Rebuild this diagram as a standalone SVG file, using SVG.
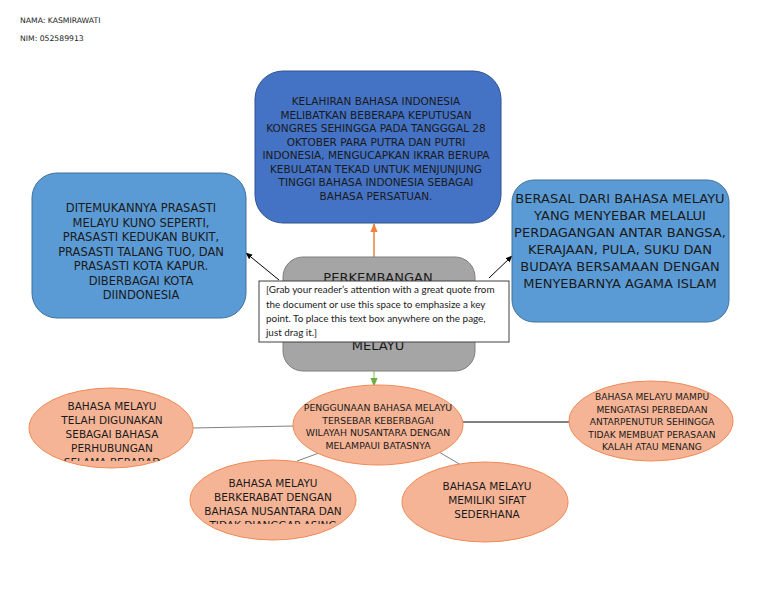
<svg xmlns="http://www.w3.org/2000/svg" width="768" height="594" viewBox="0 0 768 594">
<style>
text{font-family:"DejaVu Sans","Noto Sans",sans-serif;fill:#1a1a1a;text-anchor:middle}
.hd{font-size:7.7px;text-anchor:start}
.t1{font-size:10.5px}
.t2{font-size:11.5px}
.t3{font-size:13px}
.e{fill:#F5B496;stroke:#F08A55;stroke-width:1}
.ec{font-size:9.3px}
.er{font-size:9.1px}
.q{font-family:Lato,"Open Sans",sans-serif;font-size:9.9px;text-anchor:start}
</style>
<defs>
<marker id="ab" viewBox="0 0 10 10" refX="9" refY="5" markerWidth="7" markerHeight="7" orient="auto"><path d="M0,1 L10,5 L0,9 z" fill="#000"/></marker>
<marker id="ao" viewBox="0 0 10 10" refX="9" refY="5" markerWidth="6" markerHeight="6" orient="auto"><path d="M0,1 L10,5 L0,9 z" fill="#F08040"/></marker>
<marker id="ag" viewBox="0 0 10 10" refX="9" refY="5" markerWidth="6" markerHeight="6" orient="auto"><path d="M0,1 L10,5 L0,9 z" fill="#70AD47"/></marker>
<clipPath id="c1"><rect x="20" y="385" width="180" height="76"/></clipPath>
<clipPath id="c2"><rect x="185" y="455" width="180" height="69"/></clipPath>
</defs>

<text class="hd" x="20" y="23">NAMA: KASMIRAWATI</text>
<text class="hd" x="20" y="41">NIM: 052589913</text>

<g id="connectors" fill="none">
<line x1="374" y1="257" x2="374" y2="224" stroke="#F08040" stroke-width="1.5" marker-end="url(#ao)"/>
<line x1="279" y1="280" x2="246" y2="253" stroke="#000" stroke-width="1" marker-end="url(#ab)"/>
<line x1="489" y1="278" x2="512" y2="256" stroke="#000" stroke-width="1" marker-end="url(#ab)"/>
<line x1="374" y1="371" x2="374" y2="386" stroke="#A9D18E" stroke-width="1.5" marker-end="url(#ag)"/>
<line x1="193" y1="428" x2="294" y2="426" stroke="#808080" stroke-width="1"/>
<line x1="463" y1="422" x2="570" y2="422" stroke="#000" stroke-width="1"/>
<line x1="297" y1="461" x2="319" y2="453" stroke="#808080" stroke-width="1"/>
<line x1="439" y1="452" x2="461" y2="465" stroke="#808080" stroke-width="1"/>
</g>

<g id="top">
<rect x="255" y="71" width="246" height="152" rx="28" fill="#4472C4" stroke="#2F528F"/>
<text class="t1" x="376" y="105">KELAHIRAN BAHASA INDONESIA</text>
<text class="t1" x="376" y="118.5">MELIBATKAN BEBERAPA KEPUTUSAN</text>
<text class="t1" x="376" y="132">KONGRES SEHINGGA PADA TANGGGAL 28</text>
<text class="t1" x="376" y="145.5">OKTOBER PARA PUTRA DAN PUTRI</text>
<text class="t1" x="376" y="159">INDONESIA, MENGUCAPKAN IKRAR BERUPA</text>
<text class="t1" x="376" y="172.5">KEBULATAN TEKAD UNTUK MENJUNJUNG</text>
<text class="t1" x="376" y="186">TINGGI BAHASA INDONESIA SEBAGAI</text>
<text class="t1" x="376" y="199.5">BAHASA PERSATUAN.</text>
</g>

<g id="left">
<rect x="32" y="173" width="214" height="145" rx="25" fill="#5B9BD5" stroke="#41719C"/>
<text class="t2" x="141" y="212">DITEMUKANNYA PRASASTI</text>
<text class="t2" x="141" y="226.5">MELAYU KUNO SEPERTI,</text>
<text class="t2" x="141" y="241">PRASASTI KEDUKAN BUKIT,</text>
<text class="t2" x="141" y="255.5">PRASASTI TALANG TUO, DAN</text>
<text class="t2" x="141" y="270">PRASASTI KOTA KAPUR.</text>
<text class="t2" x="141" y="284.5">DIBERBAGAI KOTA</text>
<text class="t2" x="141" y="299">DIINDONESIA</text>
</g>

<g id="right">
<rect x="512" y="180" width="217" height="142" rx="22" fill="#5B9BD5" stroke="#41719C"/>
<text class="t3" x="620" y="203">BERASAL DARI BAHASA MELAYU</text>
<text class="t3" x="620" y="220">YANG MENYEBAR MELALUI</text>
<text class="t3" x="620" y="237">PERDAGANGAN ANTAR BANGSA,</text>
<text class="t3" x="620" y="254">KERAJAAN, PULA, SUKU DAN</text>
<text class="t3" x="620" y="271">BUDAYA BERSAMAAN DENGAN</text>
<text class="t3" x="620" y="288">MENYEBARNYA AGAMA ISLAM</text>
</g>

<g id="center">
<rect x="283" y="257" width="192" height="114" rx="20" fill="#A5A5A5" stroke="#7F7F7F"/>
<text class="t3" x="378" y="282">PERKEMBANGAN</text>
<text class="t3" x="378" y="350">MELAYU</text>
</g>

<g id="quote">
<rect x="259" y="281" width="250" height="61" fill="#fff" stroke="#404040"/>
<text class="q" x="266" y="293">[Grab your reader’s attention with a great quote from</text>
<text class="q" x="266" y="307.5">the document or use this space to emphasize a key</text>
<text class="q" x="266" y="322">point. To place this text box anywhere on the page,</text>
<text class="q" x="266" y="336">just drag it.]</text>
</g>

<g id="e-center">
<ellipse class="e" cx="378" cy="425" rx="85" ry="40"/>
<text class="ec" x="378" y="411">PENGGUNAAN BAHASA MELAYU</text>
<text class="ec" x="378" y="423.5">TERSEBAR KEBERBAGAI</text>
<text class="ec" x="378" y="436">WILAYAH NUSANTARA DENGAN</text>
<text class="ec" x="378" y="448.5">MELAMPAUI BATASNYA</text>
</g>

<g id="e-left">
<ellipse class="e" cx="111" cy="428" rx="82" ry="40"/>
<g clip-path="url(#c1)">
<text class="t1" x="112" y="410">BAHASA MELAYU</text>
<text class="t1" x="112" y="424">TELAH DIGUNAKAN</text>
<text class="t1" x="112" y="438">SEBAGAI BAHASA</text>
<text class="t1" x="112" y="452">PERHUBUNGAN</text>
<text class="t1" x="112" y="466">SELAMA BERABAD</text>
</g>
</g>

<g id="e-right">
<ellipse class="e" cx="651" cy="421" rx="82" ry="40"/>
<text class="er" x="652" y="400">BAHASA MELAYU MAMPU</text>
<text class="er" x="652" y="412.5">MENGATASI PERBEDAAN</text>
<text class="er" x="652" y="425">ANTARPENUTUR SEHINGGA</text>
<text class="er" x="652" y="437.5">TIDAK MEMBUAT PERASAAN</text>
<text class="er" x="652" y="450">KALAH ATAU MENANG</text>
</g>

<g id="e-bl">
<ellipse class="e" cx="273" cy="500" rx="83" ry="40"/>
<g clip-path="url(#c2)">
<text class="t1" x="273" y="487">BAHASA MELAYU</text>
<text class="t1" x="273" y="501">BERKERABAT DENGAN</text>
<text class="t1" x="273" y="515">BAHASA NUSANTARA DAN</text>
<text class="t1" x="273" y="529">TIDAK DIANGGAP ASING</text>
</g>
</g>

<g id="e-br">
<ellipse class="e" cx="485" cy="502" rx="83" ry="40"/>
<text class="t1" x="487" y="490">BAHASA MELAYU</text>
<text class="t1" x="487" y="504">MEMILIKI SIFAT</text>
<text class="t1" x="487" y="518">SEDERHANA</text>
</g>
</svg>
